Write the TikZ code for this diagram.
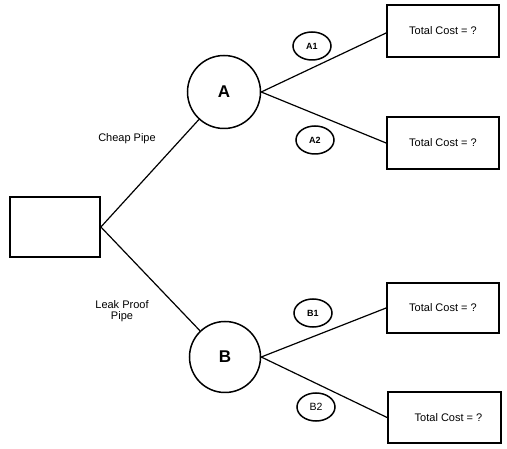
\documentclass[tikz,border=0pt]{standalone}
\usepackage{fontspec}
\setmainfont{Liberation Sans}
\usetikzlibrary{shapes.geometric}
\begin{document}
\begin{tikzpicture}[x=1pt,y=-1pt,
  box/.style={draw,line width=1.8pt,minimum width=112pt,minimum height=52pt,inner sep=0pt,font=\fontsize{11}{13}\selectfont},
  chance/.style={draw,circle,line width=1.5pt,minimum size=73pt,inner sep=0pt,font=\fontsize{17}{20}\selectfont\bfseries},
  tag/.style={draw,ellipse,line width=1.5pt,minimum width=38pt,minimum height=28pt,inner sep=0pt,font=\fontsize{9}{11}\selectfont\bfseries},
  lbl/.style={font=\fontsize{11}{13}\selectfont,align=center},
  link/.style={line width=1.2pt}]
\useasboundingbox (0,0) rectangle (507,449);
\node[draw,line width=1.8pt,minimum width=90pt,minimum height=60pt,inner sep=0pt] (root) at (55,227) {};
\node[chance] (A) at (224,92) {A};
\node[chance,minimum size=71pt] (B) at (225,357) {B};
\node[box] (a1) at (443,31) {Total Cost = ?};
\node[box] (a2) at (443,143) {Total Cost = ?};
\node[box,minimum height=50pt] (b1) at (443,308) {Total Cost = ?};
\node[box,minimum width=113pt,minimum height=51pt] (b2) at (444.5,417.5) {\hspace*{8pt}Total Cost = ?};
\node[tag] (t1) at (312,46) {A1};
\node[tag] (t2) at (315,140) {A2};
\node[tag] (t3) at (313,313) {B1};
\node[tag,font=\fontsize{10.5}{12}\selectfont] (t4) at (316,407) {B2};
\node[lbl] (cp) at (127,139) {Cheap Pipe};
\node[lbl] (lp) at (122,311) {Leak Proof\\[-2pt]Pipe};
\coordinate (r) at (root.east);
\draw[link] (r) -- (A);
\draw[link] (r) -- (B);
\draw[link] (A.east) -- ([yshift=-2pt]a1.west);
\draw[link] (A.east) -- (a2.west);
\draw[link] (B.east) -- (b1.west);
\draw[link] (B.east) -- (b2.west);
\end{tikzpicture}
\end{document}
